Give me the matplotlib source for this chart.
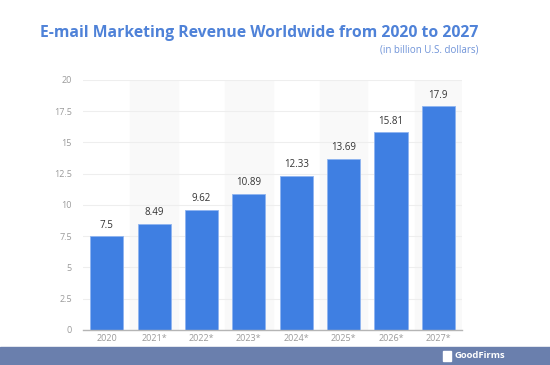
import matplotlib.pyplot as plt
from matplotlib.patches import Rectangle

years = ["2020", "2021*", "2022*", "2023*", "2024*", "2025*", "2026*", "2027*"]
revenue = [7.5, 8.49, 9.62, 10.89, 12.33, 13.69, 15.81, 17.9]
yticks = [0, 2.5, 5, 7.5, 10, 12.5, 15, 17.5, 20]
ytick_labels = ["0", "2.5", "5", "7.5", "10", "12.5", "15", "17.5", "20"]

plt.rcParams['font.family'] = ['Open Sans', 'DejaVu Sans']

fig = plt.figure(figsize=(5.5, 3.65), dpi=100)
ax = fig.add_axes([0.151, 0.096, 0.689, 0.685])

x = list(range(len(years)))
# alternating light bands
for i in x:
    if i % 2 == 1:
        ax.axvspan(i - 0.5, i + 0.5, color="#f9f9f9", zorder=0)
ax.grid(axis="y", color="#eeeeee", linewidth=0.8, zorder=1)
ax.bar(x, revenue, width=0.7, color="#3f7fe2", edgecolor="#8fb4f0", linewidth=0.6, zorder=2)
for xi, v in zip(x, revenue):
    ax.text(xi, v + 0.45, "{:g}".format(v), ha="center", va="bottom", fontsize=7, color="#333333")

ax.set_xlim(-0.5, len(years) - 0.5)
ax.set_ylim(0, 20)
ax.set_xticks(x)
ax.set_xticklabels(years, fontsize=6.5, color="#9a9a9a")
ax.set_yticks(yticks)
ax.set_yticklabels(ytick_labels, fontsize=6.5, color="#9a9a9a")
ax.tick_params(axis="x", length=0, pad=3)
ax.tick_params(axis="y", length=0, pad=8)
for s in ["top", "right", "left"]:
    ax.spines[s].set_visible(False)
ax.spines["bottom"].set_color("#b5b5b5")
ax.spines["bottom"].set_linewidth(1.0)

fig.text(0.87, 0.91, "E-mail Marketing Revenue Worldwide from 2020 to 2027",
         ha="right", va="center", fontsize=11.3, fontweight="bold", color="#4f82d8")
fig.text(0.87, 0.862, "(in billion U.S. dollars)", ha="right", va="center",
         fontsize=7, color="#6f93d8")

# footer band
fig.patches.append(Rectangle((0, 0), 1, 0.05, transform=fig.transFigure,
                             color="#6a7fad", zorder=0))
fig.text(0.826, 0.025, "GoodFirms", ha="left", va="center", fontsize=6.8,
         fontweight="bold", color="white")
fig.patches.append(Rectangle((0.806, 0.012), 0.014, 0.026, transform=fig.transFigure,
                             color="white", zorder=1))

fig.savefig("out.png", dpi=100)
